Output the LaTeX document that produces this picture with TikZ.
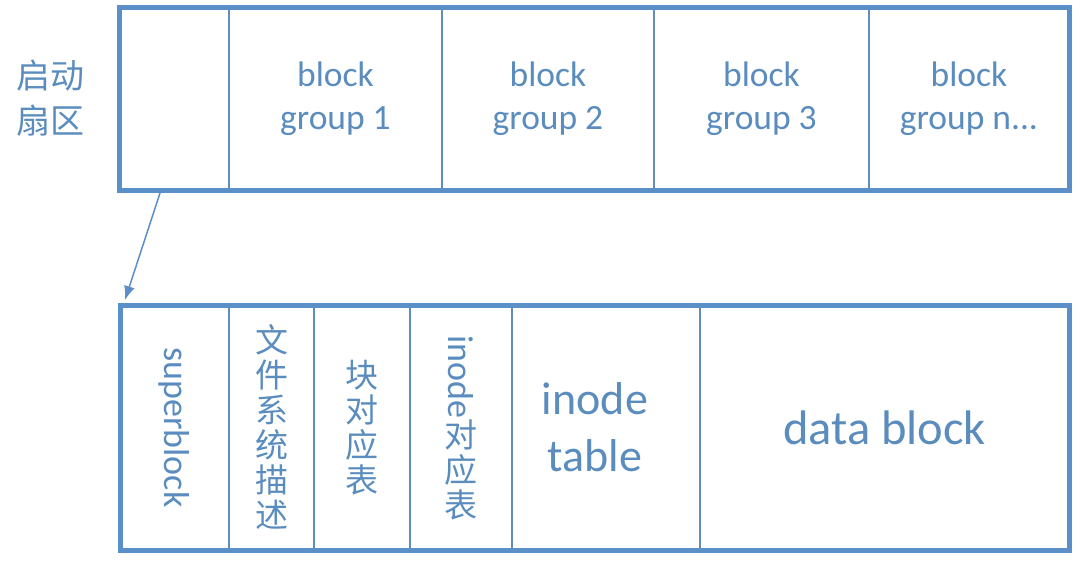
\documentclass[tikz,border=0pt]{standalone}
\usepackage{fontspec}
\usepackage{graphicx}
\setmainfont{Carlito}
\newfontfamily\cjk{Noto Sans CJK SC}
\usetikzlibrary{positioning,arrows.meta}
\definecolor{frameblue}{RGB}{91,143,199}
\definecolor{textblue}{RGB}{90,140,190}

\begin{document}
\begin{tikzpicture}[x=1pt,y=-1pt]
  \tikzstyle{cell} = [rectangle, draw=frameblue!85!gray, line width=1.6pt, outer sep=0pt, inner sep=0pt, text=textblue, align=center]
  \tikzstyle{toprow} = [cell, minimum height=183pt, font=\fontsize{35.5}{43}\selectfont]
  \tikzstyle{botrow} = [cell, minimum height=245pt, font=\fontsize{36}{35}\selectfont]
  \tikzstyle{cjkrow} = [botrow, font=\cjk\fontsize{33}{35}\selectfont]
  \tikzstyle{frame} = [draw=frameblue, line width=5pt]
  \newcommand\cjkchar[1]{{\cjk\fontsize{33}{35}\selectfont #1}}
  \useasboundingbox (0,0) rectangle (1080,565);

  % Top row: boot sector and block groups
  \node[toprow, minimum width=110pt, anchor=north west] (boot) at (119,7) {};
  \node[toprow, right=0pt of boot, minimum width=213pt] (g1) {block\\group 1};
  \node[toprow, right=0pt of g1, minimum width=212pt] (g2) {block\\group 2};
  \node[toprow, right=0pt of g2, minimum width=215pt] (g3) {block\\group 3};
  \node[toprow, right=0pt of g3, minimum width=200pt] (gn) {block\\group n...};
  \node[text=textblue, align=center, font=\cjk\fontsize{34}{45}\selectfont, left=31pt of boot] (bootlbl) {启动\\扇区};
  \draw[frame] (boot.north west) rectangle (gn.south east);

  % Bottom row: inside one block group
  \node[botrow, minimum width=109pt, anchor=north west] (sb) at (120,305) {\rotatebox{-90}{superblock}};
  \node[cjkrow, right=0pt of sb, minimum width=85pt] (fsdesc) {文\\件\\系\\统\\描\\述};
  \node[cjkrow, right=0pt of fsdesc, minimum width=96pt] (bmap) {块\\对\\应\\表};
  \node[botrow, right=0pt of bmap, minimum width=102pt] (imap) {\rotatebox{-90}{inode}\\\cjkchar{对}\\\cjkchar{应}\\\cjkchar{表}};
  \node[cell, right=0pt of imap, minimum width=188pt, minimum height=245pt, font=\fontsize{46}{57}\selectfont] (itab) {\hspace*{-22pt}inode\\\hspace*{-22pt}table};
  \node[cell, right=0pt of itab, minimum width=369pt, minimum height=245pt, font=\fontsize{48.5}{57}\selectfont] (dblk) {data block};
  \draw[frame] (sb.north west) rectangle (dblk.south east);

  \draw[frameblue, line width=1.5pt, -{Latex[length=14pt,width=11pt]}] ([xshift=42pt]boot.south west) -- ([xshift=5pt,yshift=5pt]sb.north west);
\end{tikzpicture}
\end{document}
